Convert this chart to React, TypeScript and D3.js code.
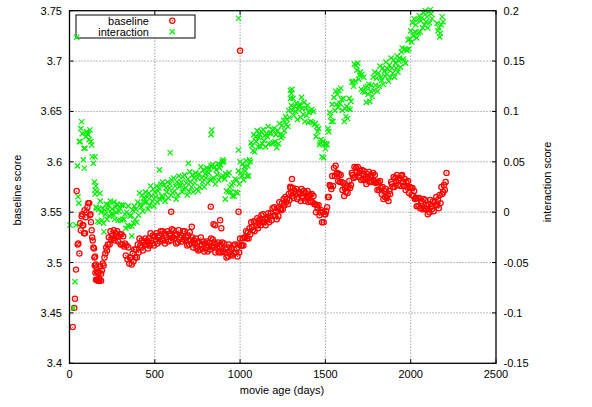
import React from "react";
import * as d3 from "d3";

const W = 592;
const H = 407;

// axes
const X_TICKS = [0, 500, 1000, 1500, 2000, 2500];
const Y_TICKS = [3.4, 3.45, 3.5, 3.55, 3.6, 3.65, 3.7, 3.75];
const Y2_TICKS = [-0.15, -0.1, -0.05, 0, 0.05, 0.1, 0.15, 0.2];
const X_TICK_LABELS = ["0", "500", "1000", "1500", "2000", "2500"];
const Y_TICK_LABELS = ["3.4", "3.45", "3.5", "3.55", "3.6", "3.65", "3.7", "3.75"];
const Y2_TICK_LABELS = ["-0.15", "-0.1", "-0.05", "0", "0.05", "0.1", "0.15", "0.2"];

// dense band readings: one value every BAND_STEP days from BAND_START
const BAND_START = 150;
const BAND_STEP = 5;

const baselineBand = [
  3.506, 3.498, 3.491, 3.483, 3.490, 3.482, 3.496, 3.489, 3.492, 3.499, 3.497, 3.505, 3.509, 3.515, 3.512, 3.518, 3.525, 3.518, 3.531, 3.523,
  3.527, 3.524, 3.532, 3.522, 3.529, 3.526, 3.531, 3.521, 3.526, 3.528, 3.518, 3.528, 3.518, 3.526, 3.516, 3.519, 3.507, 3.517, 3.503, 3.515,
  3.499, 3.505, 3.505, 3.498, 3.509, 3.501, 3.513, 3.505, 3.513, 3.505, 3.518, 3.510, 3.524, 3.517, 3.515, 3.522, 3.512, 3.520, 3.518, 3.524,
  3.518, 3.521, 3.514, 3.524, 3.517, 3.529, 3.522, 3.519, 3.527, 3.517, 3.526, 3.523, 3.529, 3.519, 3.525, 3.527, 3.521, 3.531, 3.523, 3.531,
  3.522, 3.529, 3.519, 3.527, 3.525, 3.531, 3.521, 3.527, 3.529, 3.522, 3.533, 3.525, 3.532, 3.524, 3.527, 3.519, 3.528, 3.520, 3.532, 3.525,
  3.525, 3.527, 3.521, 3.531, 3.523, 3.531, 3.522, 3.525, 3.517, 3.527, 3.518, 3.530, 3.522, 3.519, 3.525, 3.515, 3.522, 3.519, 3.524, 3.514,
  3.520, 3.512, 3.521, 3.513, 3.525, 3.518, 3.514, 3.521, 3.511, 3.519, 3.515, 3.521, 3.511, 3.517, 3.520, 3.513, 3.524, 3.516, 3.523, 3.515,
  3.520, 3.510, 3.518, 3.515, 3.520, 3.510, 3.516, 3.518, 3.510, 3.520, 3.511, 3.519, 3.510, 3.513, 3.505, 3.515, 3.506, 3.518, 3.511, 3.508,
  3.514, 3.507, 3.517, 3.509, 3.518, 3.510, 3.514, 3.506, 3.518, 3.510, 3.524, 3.517, 3.517, 3.524, 3.517, 3.525, 3.525, 3.531, 3.524, 3.530,
  3.524, 3.534, 3.528, 3.540, 3.535, 3.532, 3.541, 3.531, 3.540, 3.537, 3.544, 3.534, 3.541, 3.543, 3.537, 3.547, 3.540, 3.548, 3.540, 3.543,
  3.537, 3.545, 3.543, 3.549, 3.540, 3.546, 3.549, 3.542, 3.554, 3.546, 3.555, 3.547, 3.551, 3.543, 3.554, 3.546, 3.560, 3.553, 3.552, 3.559,
  3.553, 3.563, 3.557, 3.565, 3.560, 3.563, 3.558, 3.568, 3.562, 3.574, 3.569, 3.566, 3.574, 3.564, 3.571, 3.568, 3.573, 3.563, 3.568, 3.570,
  3.569, 3.561, 3.573, 3.566, 3.564, 3.571, 3.561, 3.569, 3.565, 3.571, 3.560, 3.566, 3.567, 3.560, 3.568, 3.560, 3.566, 3.558, 3.558, 3.550,
  3.557, 3.554, 3.557, 3.547, 3.550, 3.552, 3.540, 3.550, 3.540, 3.548, 3.548, 3.551, 3.555, 3.565, 3.565, 3.577, 3.576, 3.573, 3.586, 3.576,
  3.594, 3.586, 3.596, 3.588, 3.589, 3.581, 3.588, 3.580, 3.587, 3.580, 3.572, 3.579, 3.566, 3.574, 3.570, 3.576, 3.569, 3.575, 3.581, 3.574,
  3.577, 3.589, 3.587, 3.584, 3.595, 3.585, 3.594, 3.591, 3.595, 3.585, 3.589, 3.591, 3.582, 3.592, 3.583, 3.591, 3.582, 3.585, 3.578, 3.588,
  3.584, 3.590, 3.580, 3.586, 3.587, 3.580, 3.589, 3.581, 3.587, 3.579, 3.580, 3.572, 3.580, 3.572, 3.581, 3.574, 3.568, 3.575, 3.563, 3.571,
  3.565, 3.573, 3.564, 3.567, 3.561, 3.571, 3.568, 3.580, 3.578, 3.575, 3.585, 3.575, 3.584, 3.581, 3.587, 3.577, 3.582, 3.584, 3.576, 3.586,
  3.587, 3.580, 3.576, 3.583, 3.572, 3.580, 3.575, 3.581, 3.569, 3.575, 3.574, 3.567, 3.574, 3.566, 3.571, 3.563, 3.564, 3.556, 3.564, 3.556,
  3.564, 3.554, 3.559, 3.561, 3.553, 3.563, 3.554, 3.562, 3.553, 3.556, 3.548, 3.558, 3.550, 3.562, 3.556, 3.553, 3.561, 3.551, 3.560, 3.557,
  3.565, 3.557, 3.562, 3.554, 3.567, 3.559, 3.575, 3.568, 3.570, 3.577, 3.572, 3.580, 3.589,
];

const interactionBand = [
  0.018, 0.005, 0.004, -0.009, 0.003, -0.010, 0.011, 0.000, -0.008, 0.004, -0.011, 0.002, -0.002, 0.008, -0.007, 0.003, 0.007, -0.004, 0.011, -0.002,
  0.003, -0.002, 0.010, -0.007, 0.005, 0.000, 0.008, -0.008, 0.001, 0.004, -0.008, 0.007, -0.007, 0.007, -0.007, -0.002, -0.016, 0.000, -0.013, 0.006,
  -0.014, -0.004, -0.003, -0.014, 0.002, -0.011, 0.006, -0.007, 0.003, -0.010, 0.010, -0.003, 0.019, 0.008, 0.005, 0.017, 0.001, 0.014, 0.010, 0.020,
  0.010, 0.015, 0.003, 0.019, 0.007, 0.026, 0.016, 0.011, 0.023, 0.006, 0.020, 0.015, 0.026, 0.010, 0.021, 0.024, 0.013, 0.028, 0.016, 0.030,
  0.015, 0.027, 0.011, 0.024, 0.020, 0.030, 0.014, 0.024, 0.028, 0.017, 0.032, 0.019, 0.034, 0.021, 0.026, 0.013, 0.030, 0.017, 0.036, 0.025,
  0.027, 0.030, 0.020, 0.035, 0.023, 0.037, 0.024, 0.029, 0.017, 0.033, 0.021, 0.040, 0.030, 0.025, 0.037, 0.020, 0.034, 0.029, 0.039, 0.023,
  0.034, 0.021, 0.038, 0.025, 0.045, 0.034, 0.030, 0.042, 0.025, 0.038, 0.034, 0.044, 0.029, 0.039, 0.043, 0.032, 0.046, 0.033, 0.047, 0.034,
  0.045, 0.028, 0.042, 0.037, 0.048, 0.032, 0.044, 0.047, 0.035, 0.050, 0.036, 0.050, 0.033, 0.038, 0.021, 0.037, 0.020, 0.039, 0.025, 0.020,
  0.027, 0.016, 0.029, 0.016, 0.033, 0.020, 0.032, 0.019, 0.041, 0.028, 0.050, 0.039, 0.036, 0.048, 0.032, 0.045, 0.041, 0.051, 0.036, 0.046,
  0.036, 0.052, 0.050, 0.069, 0.066, 0.061, 0.077, 0.060, 0.075, 0.070, 0.081, 0.065, 0.074, 0.077, 0.065, 0.080, 0.068, 0.082, 0.071, 0.076,
  0.065, 0.078, 0.075, 0.085, 0.068, 0.078, 0.079, 0.068, 0.082, 0.069, 0.083, 0.070, 0.077, 0.064, 0.081, 0.068, 0.088, 0.077, 0.074, 0.086,
  0.076, 0.091, 0.081, 0.095, 0.087, 0.092, 0.085, 0.101, 0.094, 0.113, 0.106, 0.101, 0.113, 0.096, 0.105, 0.100, 0.108, 0.092, 0.102, 0.105,
  0.107, 0.094, 0.114, 0.103, 0.097, 0.109, 0.090, 0.103, 0.096, 0.106, 0.089, 0.099, 0.101, 0.090, 0.102, 0.089, 0.100, 0.087, 0.088, 0.075,
  0.085, 0.080, 0.083, 0.067, 0.069, 0.072, 0.055, 0.070, 0.054, 0.068, 0.063, 0.068, 0.067, 0.083, 0.080, 0.099, 0.095, 0.090, 0.107, 0.090,
  0.114, 0.101, 0.120, 0.107, 0.117, 0.104, 0.121, 0.108, 0.123, 0.112, 0.101, 0.113, 0.090, 0.103, 0.095, 0.105, 0.093, 0.103, 0.113, 0.102,
  0.110, 0.129, 0.130, 0.125, 0.147, 0.130, 0.146, 0.141, 0.148, 0.132, 0.136, 0.139, 0.122, 0.137, 0.120, 0.134, 0.119, 0.124, 0.109, 0.125,
  0.117, 0.127, 0.110, 0.120, 0.126, 0.115, 0.134, 0.121, 0.139, 0.126, 0.133, 0.120, 0.138, 0.125, 0.145, 0.134, 0.131, 0.143, 0.127, 0.140,
  0.135, 0.149, 0.137, 0.142, 0.130, 0.146, 0.134, 0.153, 0.143, 0.138, 0.151, 0.134, 0.148, 0.143, 0.155, 0.139, 0.150, 0.153, 0.144, 0.159,
  0.163, 0.152, 0.150, 0.162, 0.148, 0.161, 0.161, 0.171, 0.162, 0.172, 0.180, 0.169, 0.188, 0.175, 0.192, 0.179, 0.186, 0.173, 0.191, 0.178,
  0.195, 0.179, 0.190, 0.193, 0.183, 0.198, 0.186, 0.200, 0.189, 0.194, 0.183, 0.199, 0.188, 0.201, 0.197, 0.192,
];

// sparse readings [day, value]: early days, outliers, late cluster
const baselineExtra: [number, number][] = [
  [19, 3.436], [28, 3.455], [32, 3.464], [38, 3.493], [42, 3.571], [48, 3.518],
  [52, 3.519], [58, 3.509], [62, 3.539], [66, 3.532], [71, 3.546], [75, 3.548],
  [77, 3.537], [81, 3.537], [85, 3.529], [88, 3.552], [91, 3.529], [95, 3.545],
  [100, 3.55], [105, 3.555], [110, 3.559], [116, 3.559], [120, 3.547], [123, 3.548],
  [126, 3.54], [130, 3.532], [133, 3.525], [136, 3.522], [140, 3.515], [144, 3.514],
  [146, 3.505], [148, 3.497], [152, 3.49], [155, 3.483], [158, 3.495], [162, 3.483],
  [165, 3.482], [168, 3.49], [175, 3.484], [185, 3.482],
  [596, 3.5505], [717, 3.5356], [828, 3.5555], [844, 3.538], [854, 3.537],
  [883, 3.542], [890, 3.534], [991, 3.5505], [1000, 3.7103], [1294, 3.5753],
  [1304, 3.583],
];

const interactionExtra: [number, number][] = [
  [3, -0.0127], [22, -0.0954], [32, -0.069], [38, -0.0127], [42, 0.1736], [46, 0.046],
  [50, 0.0154], [55, 0.009], [58, 0.07], [62, 0.07], [66, 0.083], [71, 0.0898],
  [75, 0.078], [81, 0.052], [85, 0.0634], [87, 0.0436], [91, 0.0634], [96, 0.075],
  [101, 0.08], [105, 0.078], [110, 0.077], [115, 0.072], [120, 0.0816], [125, 0.07],
  [130, 0.0667], [134, 0.055], [140, 0.0485], [146, 0.03], [150, 0.055], [150, 0.022],
  [155, 0.026], [160, 0.0203], [179, 0.0188], [202, -0.0194], [365, -0.0236],
  [527, 0.042], [590, 0.059], [697, 0.0485], [830, 0.077], [834, 0.0816],
  [899, 0.052], [913, 0.013], [991, 0.1925], [991, 0.0617],
  [1295, 0.121], [1300, 0.118], [1305, 0.122],
  [2155, 0.1875], [2160, 0.18], [2165, 0.183], [2170, 0.174], [2174, 0.1776],
  [2180, 0.186], [2184, 0.194], [2190, 0.189],
];

const RED = "#ff0000";
const GREEN = "#00ee00";
const FONT = "'Liberation Sans', Arial, Helvetica, sans-serif";

export default function App() {
  const left = 69.5, right = 496, top = 10.7, bottom = 363.3;
  const x = d3.scaleLinear().domain([0, 2500]).range([left, right]);
  const y = d3.scaleLinear().domain([3.4, 3.75]).range([bottom, top]);
  const y2 = d3.scaleLinear().domain([-0.15, 0.2]).range([bottom, top]);

  const baselinePts: [number, number][] = [
    ...baselineExtra,
    ...baselineBand.map((v, i) => [BAND_START + i * BAND_STEP, v] as [number, number]),
  ];
  const interactionPts: [number, number][] = [
    ...interactionExtra,
    ...interactionBand.map((v, i) => [BAND_START + i * BAND_STEP, v] as [number, number]),
  ];

  const circle = (cx: number, cy: number, k: string) => (
    <g key={k}>
      <circle cx={cx} cy={cy} r={2.6} fill="none" stroke={RED} strokeWidth={1.25} />
      <circle cx={cx} cy={cy} r={0.65} fill={RED} />
    </g>
  );
  const cross = (cx: number, cy: number, k: string) => (
    <path
      key={k}
      d={`M${cx - 2.6},${cy - 2.6}L${cx + 2.6},${cy + 2.6}M${cx - 2.6},${cy + 2.6}L${cx + 2.6},${cy - 2.6}`}
      stroke={GREEN}
      strokeWidth={1.25}
      fill="none"
    />
  );

  const gridStyle = { stroke: "#555", strokeWidth: 0.8, strokeDasharray: "1,2" };

  return (
    <svg
      width={W}
      height={H}
      style={{ position: "absolute", left: 0, top: 0, background: "#fff" }}
      fontFamily={FONT}
      fontSize={11}
    >
      <rect x={0} y={0} width={W} height={H} fill="#fff" />
      {/* grid */}
      {X_TICKS.slice(1, -1).map((t) => (
        <line key={"gx" + t} x1={x(t)} x2={x(t)} y1={top} y2={bottom} {...gridStyle} />
      ))}
      {Y_TICKS.slice(1, -1).map((t) => (
        <line key={"gy" + t} x1={left} x2={right} y1={y(t)} y2={y(t)} {...gridStyle} />
      ))}
      {/* ticks */}
      {X_TICKS.map((t) => (
        <g key={"tx" + t}>
          <line x1={x(t)} x2={x(t)} y1={bottom} y2={bottom - 4} stroke="#000" />
          <line x1={x(t)} x2={x(t)} y1={top} y2={top + 4} stroke="#000" />
        </g>
      ))}
      {Y_TICKS.map((t) => (
        <line key={"ty" + t} x1={left} x2={left + 4} y1={y(t)} y2={y(t)} stroke="#000" />
      ))}
      {Y2_TICKS.map((t) => (
        <line key={"ty2" + t} x1={right} x2={right - 4} y1={y2(t)} y2={y2(t)} stroke="#000" />
      ))}
      {/* legend box */}
      <rect x={76} y={15} width={119} height={23} fill="#fff" stroke="#000" strokeWidth={1} />
      <text x={149} y={25} textAnchor="end">baseline</text>
      <text x={149} y={35.5} textAnchor="end">interaction</text>
      {circle(172.3, 20.7, "lgc")}
      {cross(172.3, 31.7, "lgx")}
      {/* points */}
      {baselinePts.map(([d, v], i) => circle(x(d), y(v), "b" + i))}
      {interactionPts.map(([d, v], i) => cross(x(d), y2(v), "i" + i))}
      {/* frame */}
      <rect x={left} y={top} width={right - left} height={bottom - top} fill="none" stroke="#000" strokeWidth={1.3} />
      {/* tick labels */}
      {X_TICKS.map((t, i) => (
        <text key={"lx" + t} x={x(t)} y={377.5} textAnchor="middle">{X_TICK_LABELS[i]}</text>
      ))}
      {Y_TICKS.map((t, i) => (
        <text key={"ly" + t} x={62} y={y(t) + 4} textAnchor="end">{Y_TICK_LABELS[i]}</text>
      ))}
      {Y2_TICKS.map((t, i) => (
        <text key={"ly2" + t} x={503.5} y={y2(t) + 4} textAnchor="start">{Y2_TICK_LABELS[i]}</text>
      ))}
      {/* axis titles */}
      <text x={282} y={393.5} textAnchor="middle">movie age (days)</text>
      <text transform="translate(20.5,190) rotate(-90)" textAnchor="middle">baseline score</text>
      <text transform="translate(550.5,182) rotate(-90)" textAnchor="middle">interaction score</text>
    </svg>
  );
}
